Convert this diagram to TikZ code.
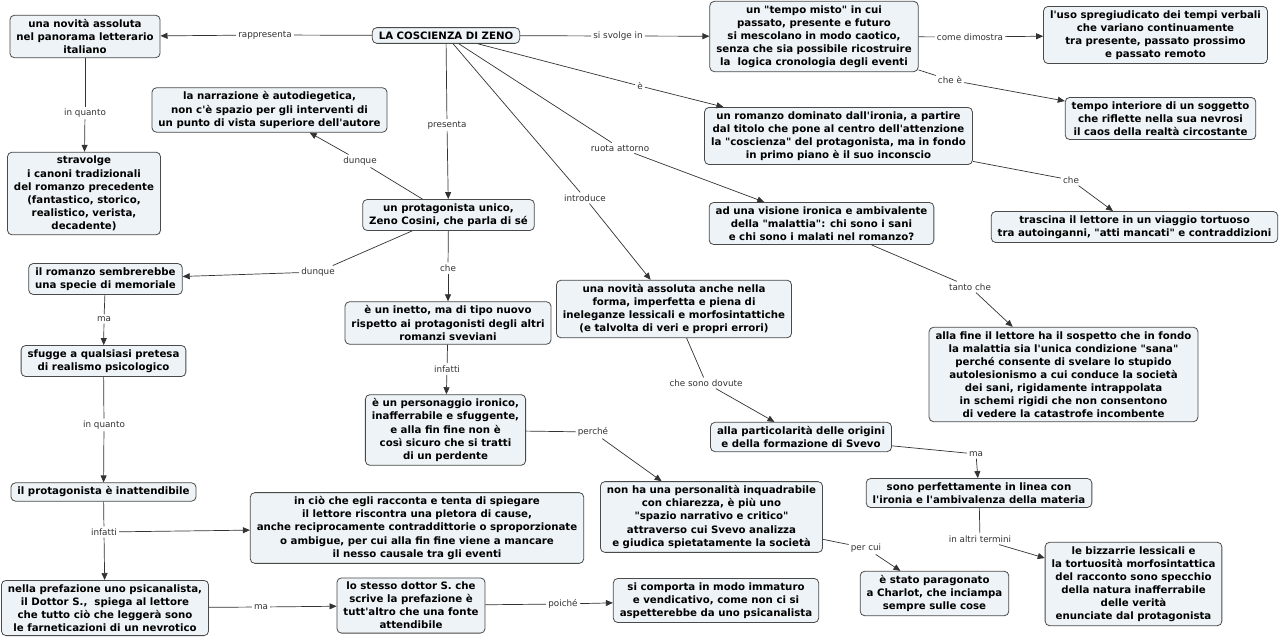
\documentclass[tikz,border=0pt]{standalone}
\usepackage{fontspec}
\setmainfont{DejaVu Sans}
\usetikzlibrary{arrows.meta}
\definecolor{boxfill}{HTML}{EDF3F6}
\definecolor{boxline}{HTML}{4A4A4A}
\definecolor{linkc}{HTML}{333333}
\newcommand\apo{\textquotesingle}
\newcommand\dq{\textquotedbl}
\begin{document}
\begin{tikzpicture}[x=1pt,y=-1pt,
 box/.style={draw=boxline, fill=boxfill, rounded corners=4.5pt, line width=0.8pt, align=center, font=\fontsize{10.2}{13.1}\selectfont\bfseries, inner xsep=6.5pt, inner ysep=4pt},
 lab/.style={font=\fontsize{8.8}{10}\selectfont, text=linkc, inner sep=2pt},
 ln/.style={draw=linkc, line width=0.7pt},
 arr/.style={ln, -{Triangle[length=7pt,width=6pt]}}]
\useasboundingbox[fill=white] (0,0) rectangle (1280,639);

% concepts
\node[box] (title) at (446,35.5) {LA COSCIENZA DI ZENO};
\node[box] (novita) at (85,36.5) {una novità assoluta\\nel panorama letterario\\italiano};
\node[box] (strav) at (84,193.5) {stravolge\\i canoni tradizionali\\del romanzo precedente\\(fantastico, storico,\\realistico, verista,\\decadente)};
\node[box] (narr) at (269.5,110) {la narrazione è autodiegetica,\\non c\apo è spazio per gli interventi di\\un punto di vista superiore dell\apo autore};
\node[box] (prot) at (448.5,215) {un protagonista unico,\\Zeno Cosini, che parla di sé};
\node[box] (tempo) at (814,36.5) {un \dq tempo misto\dq\ in cui\\passato, presente e futuro\\si mescolano in modo caotico,\\senza che sia possibile ricostruire\\la\ \ logica cronologia degli eventi};
\node[box] (uso) at (1155.5,35) {l\apo uso spregiudicato dei tempi verbali\\che variano continuamente\\tra presente, passato prossimo\\e passato remoto};
\node[box] (interiore) at (1160.5,118.5) {tempo interiore di un soggetto\\che riflette nella sua nevrosi\\il caos della realtà circostante};
\node[box] (ironia) at (838.5,136) {un romanzo dominato dall\apo ironia, a partire\\dal titolo che pone al centro dell\apo attenzione\\la \dq coscienza\dq\ del protagonista, ma in fondo\\in primo piano è il suo inconscio};
\node[box] (trascina) at (1134.5,227) {trascina il lettore in un viaggio tortuoso\\tra autoinganni, \dq atti mancati\dq\ e contraddizioni};
\node[box] (visione) at (821.5,223.5) {ad una visione ironica e ambivalente\\della \dq malattia\dq{}: chi sono i sani\\e chi sono i malati nel romanzo?};
\node[box] (memoriale) at (105.5,279) {il romanzo sembrerebbe\\una specie di memoriale};
\node[box] (sfugge) at (103.5,361) {sfugge a qualsiasi pretesa\\di realismo psicologico};
\node[box] (inetto) at (448,323) {è un inetto, ma di tipo nuovo\\rispetto ai protagonisti degli altri\\romanzi sveviani};
\node[box] (novforma) at (674,309) {una novità assoluta anche nella\\forma, imperfetta e piena di\\ineleganze lessicali e morfosintattiche\\(e talvolta di veri e propri errori)};
\node[box] (fine) at (1063.5,374.5) {alla fine il lettore ha il sospetto che in fondo\\la malattia sia l\apo unica condizione \dq sana\dq\\perché consente di svelare lo stupido\\autolesionismo a cui conduce la società\\dei sani, rigidamente intrappolata\\in schemi rigidi che non consentono\\di vedere la catastrofe incombente};
\node[box] (personaggio) at (445.5,430) {è un personaggio ironico,\\inafferrabile e sfuggente,\\e alla fin fine non è\\così sicuro che si tratti\\di un perdente};
\node[box] (partic) at (801,437) {alla particolarità delle origini\\e della formazione di Svevo};
\node[box] (inatt) at (103.5,492) {il protagonista è inattendibile};
\node[box] (incio) at (417,528) {in ciò che egli racconta e tenta di spiegare\\il lettore riscontra una pletora di cause,\\anche reciprocamente contraddittorie o sproporzionate\\o ambigue, per cui alla fin fine viene a mancare\\il nesso causale tra gli eventi};
\node[box] (personalita) at (711.5,517) {non ha una personalità inquadrabile\\con chiarezza, è più uno\\\dq spazio narrativo e critico\dq\\attraverso cui Svevo analizza\\e giudica spietatamente la società};
\node[box] (linea) at (979,493) {sono perfettamente in linea con\\l\apo ironia e l\apo ambivalenza della materia};
\node[box] (bizzarrie) at (1133.5,584) {le bizzarrie lessicali e\\la tortuosità morfosintattica\\del racconto sono specchio\\della natura inafferrabile\\delle verità\\enunciate dal protagonista};
\node[box] (prefazione) at (105,608) {nella prefazione uno psicanalista,\\il Dottor S.,\ \ spiega al lettore\\che tutto ciò che leggerà sono\\le farneticazioni di un nevrotico};
\node[box] (dottor) at (411,605.5) {lo stesso dottor S. che\\scrive la prefazione è\\tutt\apo altro che una fonte\\attendibile};
\node[box] (comporta) at (716,600.5) {si comporta in modo immaturo\\e vendicativo, come non ci si\\aspetterebbe da uno psicanalista};
\node[box] (charlot) at (934.5,593.5) {è stato paragonato\\a Charlot, che inciampa\\sempre sulle cose};

% linking phrases
\node[lab] (l1) at (265,35) {rappresenta};
\node[lab] (l2) at (85,113) {in quanto};
\node[lab] (l3) at (618,36) {si svolge in};
\node[lab] (l4) at (970,37) {come dimostra};
\node[lab] (l5) at (950,80) {che è};
\node[lab] (l6) at (640,86) {è};
\node[lab] (l7) at (1071,180) {che};
\node[lab] (l8) at (620,148) {ruota attorno};
\node[lab] (l9) at (447,125) {presenta};
\node[lab] (l10) at (360,161) {dunque};
\node[lab] (l11) at (585,198) {introduce};
\node[lab] (l12) at (318,272) {dunque};
\node[lab] (l13) at (448,268) {che};
\node[lab] (l14) at (447,369) {infatti};
\node[lab] (l15) at (104,319) {ma};
\node[lab] (l16) at (104,425) {in quanto};
\node[lab] (l17) at (104,532) {infatti};
\node[lab] (l18) at (970,287) {tanto che};
\node[lab] (l19) at (706,383) {che sono dovute};
\node[lab] (l20) at (976,454) {ma};
\node[lab] (l21) at (980,539) {in altri termini};
\node[lab] (l22) at (593,432) {perché};
\node[lab] (l23) at (866,548) {per cui};
\node[lab] (l24) at (261,607) {ma};
\node[lab] (l25) at (563,604) {poiché};

% connectors
\draw[ln] (title) -- (l1); \draw[arr] (l1) -- (novita);
\draw[ln] (novita) -- (l2); \draw[arr] (l2) -- (strav);
\draw[ln] (title) -- (l3); \draw[arr] (l3) -- (tempo);
\draw[ln] (tempo) -- (l4); \draw[arr] (l4) -- (uso);
\draw[ln] (tempo) -- (l5); \draw[arr] (l5) -- (interiore);
\draw[ln] (title) -- (l6); \draw[arr] (l6) -- (ironia);
\draw[ln] (ironia) -- (l7); \draw[arr] (l7) -- (trascina);
\draw[ln] (title) -- (l8); \draw[arr] (l8) -- (visione);
\draw[ln] (title) -- (l9); \draw[arr] (l9) -- (prot);
\draw[ln] (prot) -- (l10); \draw[arr] (l10) -- (narr);
\draw[ln] (title) -- (l11); \draw[arr] (l11) -- (novforma);
\draw[ln] (prot) -- (l12); \draw[arr] (l12) -- (memoriale);
\draw[ln] (prot) -- (l13); \draw[arr] (l13) -- (inetto);
\draw[ln] (inetto) -- (l14); \draw[arr] (l14) -- (personaggio);
\draw[ln] (memoriale) -- (l15); \draw[arr] (l15) -- (sfugge);
\draw[ln] (sfugge) -- (l16); \draw[arr] (l16) -- (inatt);
\draw[ln] (inatt) -- (l17); \draw[arr] (l17) -- (prefazione); \draw[arr] (l17) -- (incio);
\draw[ln] (visione) -- (l18); \draw[arr] (l18) -- (fine);
\draw[ln] (novforma) -- (l19); \draw[arr] (l19) -- (partic);
\draw[ln] (partic) -- (l20); \draw[arr] (l20) -- (linea);
\draw[ln] (linea) -- (l21); \draw[arr] (l21) -- (bizzarrie);
\draw[ln] (personaggio) -- (l22); \draw[arr] (l22) -- (personalita);
\draw[ln] (personalita) -- (l23); \draw[arr] (l23) -- (charlot);
\draw[ln] (prefazione) -- (l24); \draw[arr] (l24) -- (dottor);
\draw[ln] (dottor) -- (l25); \draw[arr] (l25) -- (comporta);
\end{tikzpicture}
\end{document}
